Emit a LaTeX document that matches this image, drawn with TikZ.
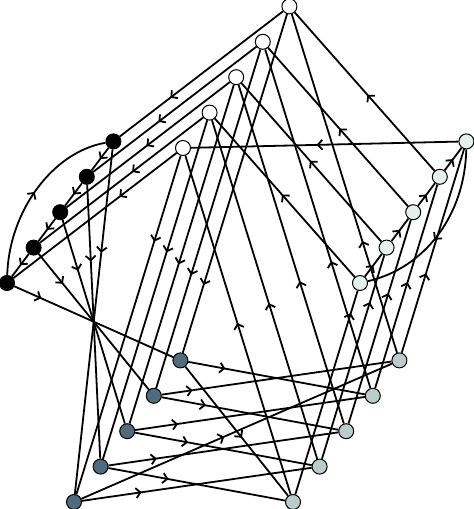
\documentclass[tikz,border=0pt]{standalone}
\usepackage{tikz}
\usetikzlibrary{arrows.meta}
\usetikzlibrary{decorations.markings}
\definecolor{slateblue}{rgb}{0.31,0.42,0.49}
\definecolor{lightteal}{rgb}{0.73,0.80,0.80}
\definecolor{palegreen}{rgb}{0.90,0.94,0.93}
\newcommand{\drawquiverarrow}[3]{
  \draw[edge,arrowat=#3] (#1) -- (#2);
}
\begin{document}
\begin{tikzpicture}[x=1pt,y=-1pt,
    vertex/.style={circle,draw=black,line width=1pt,minimum size=15pt,inner sep=0pt},
    edge/.style={line width=1.8pt},
    arrowat/.style={postaction={decorate,decoration={markings,
      mark=at position #1 with {\arrow{Straight Barb[length=4.5pt,width=10pt]}}}}}]
      \useasboundingbox (0,0) rectangle (474,509);
      % black row
      \node[vertex,fill=black] (B0) at (7,283) {};
      \node[vertex,fill=black] (B1) at (33.6,247.6) {};
      \node[vertex,fill=black] (B2) at (60.2,212.2) {};
      \node[vertex,fill=black] (B3) at (86.8,176.8) {};
      \node[vertex,fill=black] (B4) at (113.4,141.4) {};
      % white row
      \node[vertex,fill=white] (W0) at (183,148) {};
      \node[vertex,fill=white] (W1) at (209.6,112.6) {};
      \node[vertex,fill=white] (W2) at (236.2,77.2) {};
      \node[vertex,fill=white] (W3) at (262.8,41.8) {};
      \node[vertex,fill=white] (W4) at (289.4,6.4) {};
      % right row
      \node[vertex,fill=palegreen] (C0) at (360,283) {};
      \node[vertex,fill=palegreen] (C1) at (386.6,247.6) {};
      \node[vertex,fill=palegreen] (C2) at (413.2,212.2) {};
      \node[vertex,fill=palegreen] (C3) at (439.8,176.8) {};
      \node[vertex,fill=palegreen] (C4) at (466.4,141.4) {};
      % bottom left row
      \node[vertex,fill=slateblue] (D0) at (74,502) {};
      \node[vertex,fill=slateblue] (D1) at (100.6,466.6) {};
      \node[vertex,fill=slateblue] (D2) at (127.2,431.2) {};
      \node[vertex,fill=slateblue] (D3) at (153.8,395.8) {};
      \node[vertex,fill=slateblue] (D4) at (180.4,360.4) {};
      % bottom right row
      \node[vertex,fill=lightteal] (L0) at (293,502) {};
      \node[vertex,fill=lightteal] (L1) at (319.6,466.6) {};
      \node[vertex,fill=lightteal] (L2) at (346.2,431.2) {};
      \node[vertex,fill=lightteal] (L3) at (372.8,395.8) {};
      \node[vertex,fill=lightteal] (L4) at (399.4,360.4) {};
      % W -> B
      \drawquiverarrow{W0}{B0}{0.35};
      \drawquiverarrow{W1}{B1}{0.435};
      \drawquiverarrow{W2}{B2}{0.51};
      \drawquiverarrow{W3}{B3}{0.6};
      \drawquiverarrow{W4}{B4}{0.69};
      % black cycle
      \drawquiverarrow{B4}{B3}{0.5};
      \drawquiverarrow{B3}{B2}{0.5};
      \drawquiverarrow{B2}{B1}{0.5};
      \drawquiverarrow{B1}{B0}{0.5};
      \draw[edge,arrowat=0.5] (B0) .. controls (9,212) and (52,152) .. (B4);
      % B -> D
      \drawquiverarrow{B0}{D4}{0.17};
      \drawquiverarrow{B1}{D3}{0.22};
      \drawquiverarrow{B2}{D2}{0.25};
      \drawquiverarrow{B3}{D1}{0.28};
      \drawquiverarrow{B4}{D0}{0.30};
      % W -> D
      \drawquiverarrow{W0}{D0}{0.254};
      \drawquiverarrow{W1}{D1}{0.39};
      \drawquiverarrow{W2}{D2}{0.53};
      \drawquiverarrow{W3}{D3}{0.666};
      \drawquiverarrow{W4}{D4}{0.80};
      % L -> W
      \drawquiverarrow{L0}{W0}{0.506};
      \drawquiverarrow{L1}{W1}{0.46};
      \drawquiverarrow{L2}{W2}{0.42};
      \drawquiverarrow{L3}{W3}{0.375};
      \drawquiverarrow{L4}{W4}{0.33};
      % L -> C
      \drawquiverarrow{L0}{C0}{0.89};
      \drawquiverarrow{L1}{C1}{0.77};
      \drawquiverarrow{L2}{C2}{0.64};
      \drawquiverarrow{L3}{C3}{0.52};
      \drawquiverarrow{L4}{C4}{0.39};
      % right cycle
      \drawquiverarrow{C0}{C1}{0.5};
      \drawquiverarrow{C1}{C2}{0.5};
      \drawquiverarrow{C2}{C3}{0.5};
      \drawquiverarrow{C3}{C4}{0.5};
      \draw[edge,arrowat=0.55] (C4) .. controls (465,215) and (425,268) .. (C0);
      % C -> W
      \drawquiverarrow{C0}{W1}{0.52};
      \drawquiverarrow{C1}{W2}{0.51};
      \drawquiverarrow{C2}{W3}{0.49};
      \drawquiverarrow{C3}{W4}{0.48};
      \drawquiverarrow{C4}{W0}{0.53};
      % D -> L
      \drawquiverarrow{D0}{L1}{0.26};
      \drawquiverarrow{D1}{L2}{0.21};
      \drawquiverarrow{D2}{L3}{0.187};
      \drawquiverarrow{D3}{L4}{0.134};
      \drawquiverarrow{D4}{L0}{0.55};
      \drawquiverarrow{D1}{L0}{0.34};
      \drawquiverarrow{D2}{L1}{0.30};
      \drawquiverarrow{D3}{L2}{0.25};
      \drawquiverarrow{D4}{L3}{0.21};
      \drawquiverarrow{D0}{L4}{0.46};
    \end{tikzpicture}
\end{document}
